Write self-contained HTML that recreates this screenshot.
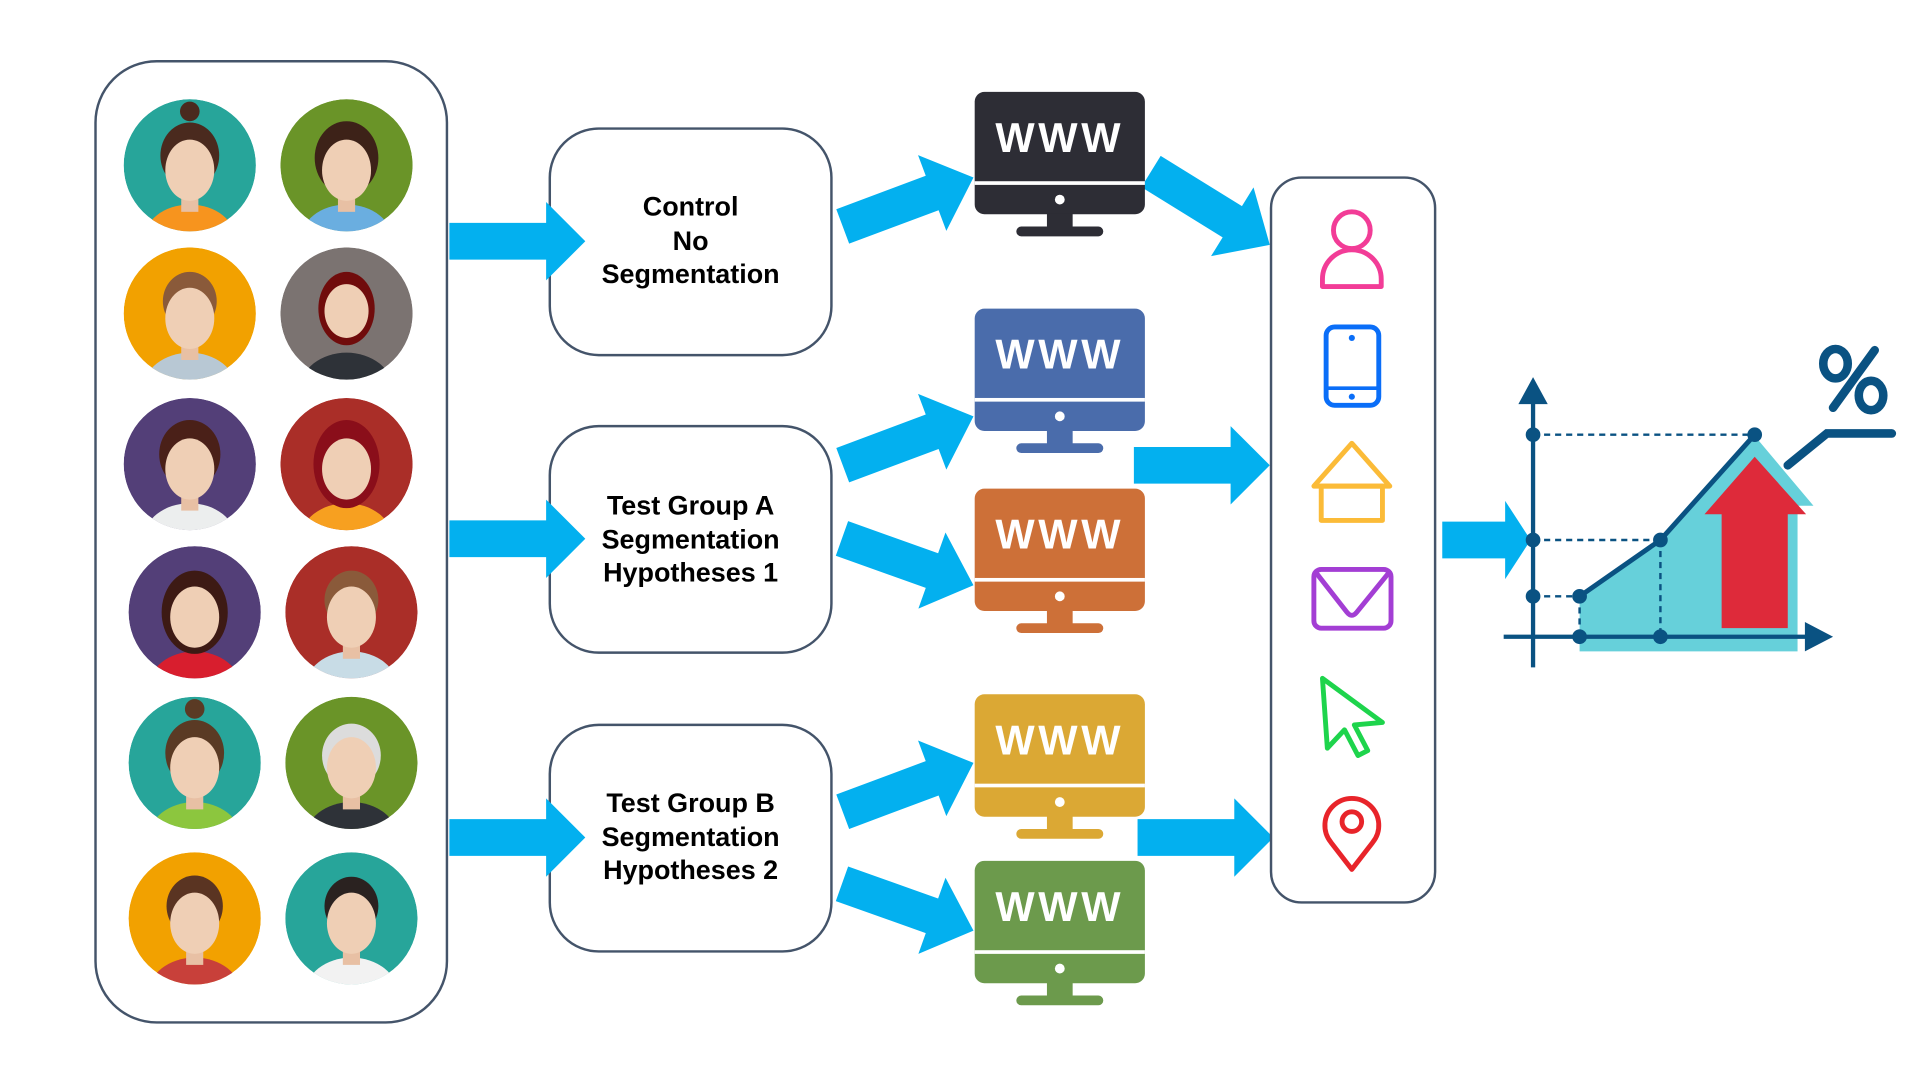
<!DOCTYPE html>
<html><head><meta charset="utf-8"><style>html,body{margin:0;padding:0;background:#fff;width:1920px;height:1080px;overflow:hidden}svg{display:block}</style></head><body>
<svg width="1920" height="1080" viewBox="0 0 1568 882" xmlns="http://www.w3.org/2000/svg">
<defs>
<clipPath id="cc"><circle cx="0" cy="0" r="54"/></clipPath>
<polygon id="arH" points="-111,-15 -32,-15 -32,-32 0,0 -32,32 -32,15 -111,15" fill="#03b0ef"/>
<polygon id="arD" points="-114,-15 -36,-15 -36,-33 0,0 -36,33 -36,15 -114,15" fill="#03b0ef"/>
</defs>
<rect width="1568" height="882" fill="#fff"/>
<rect x="78" y="50" width="287" height="785" rx="50" fill="#fff" stroke="#44546a" stroke-width="2"/>
<g font-family="Liberation Sans, sans-serif">
<g id="avs">
<g transform="translate(155,135)"><g clip-path="url(#cc)"><circle r="54" fill="#27a59a"/><ellipse cx="0" cy="62" rx="38" ry="30" fill="#f7941e"/><rect x="-7" y="18" width="14" height="20" fill="#e8c0a4"/><ellipse cx="0" cy="-8" rx="24" ry="27" fill="#4a2a1e"/><circle cx="0" cy="-44" r="8" fill="#4a2a1e"/><ellipse cx="0" cy="4" rx="20" ry="25" fill="#efcfb5"/></g></g>
<g transform="translate(283,135)"><g clip-path="url(#cc)"><circle r="54" fill="#6a9428"/><ellipse cx="0" cy="62" rx="38" ry="30" fill="#6aaee0"/><rect x="-7" y="18" width="14" height="20" fill="#e8c0a4"/><ellipse cx="0" cy="-6" rx="26" ry="30" fill="#3d2218"/><ellipse cx="0" cy="4" rx="20" ry="25" fill="#efcfb5"/></g></g>
<g transform="translate(155,256)"><g clip-path="url(#cc)"><circle r="54" fill="#f2a100"/><ellipse cx="0" cy="62" rx="38" ry="30" fill="#b8c8d4"/><rect x="-7" y="18" width="14" height="20" fill="#e8c0a4"/><ellipse cx="0" cy="-10" rx="22" ry="24" fill="#8a5a3a"/><ellipse cx="0" cy="4" rx="20" ry="25" fill="#efcfb5"/></g></g>
<g transform="translate(283,256)"><g clip-path="url(#cc)"><circle r="54" fill="#7b7371"/><ellipse cx="0" cy="62" rx="38" ry="30" fill="#2e3238"/><ellipse cx="0" cy="-4" rx="23" ry="30" fill="#700c0c"/><ellipse cx="0" cy="-2" rx="18" ry="22" fill="#efcfb5"/></g></g>
<g transform="translate(155,379)"><g clip-path="url(#cc)"><circle r="54" fill="#533f78"/><ellipse cx="0" cy="62" rx="38" ry="30" fill="#eceeee"/><rect x="-7" y="18" width="14" height="20" fill="#e8c0a4"/><ellipse cx="0" cy="-8" rx="25" ry="28" fill="#4a2018"/><ellipse cx="0" cy="4" rx="20" ry="25" fill="#efcfb5"/></g></g>
<g transform="translate(283,379)"><g clip-path="url(#cc)"><circle r="54" fill="#aa2e28"/><ellipse cx="0" cy="62" rx="38" ry="30" fill="#f7a020"/><ellipse cx="0" cy="0" rx="27" ry="36" fill="#8a0e1a"/><ellipse cx="0" cy="4" rx="20" ry="25" fill="#efcfb5"/></g></g>
<g transform="translate(159,500)"><g clip-path="url(#cc)"><circle r="54" fill="#533f78"/><ellipse cx="0" cy="62" rx="38" ry="30" fill="#d81e2e"/><ellipse cx="0" cy="0" rx="27" ry="34" fill="#3d1a14"/><ellipse cx="0" cy="4" rx="20" ry="25" fill="#efcfb5"/></g></g>
<g transform="translate(287,500)"><g clip-path="url(#cc)"><circle r="54" fill="#aa2e28"/><ellipse cx="0" cy="62" rx="38" ry="30" fill="#c8dce6"/><rect x="-7" y="18" width="14" height="20" fill="#e8c0a4"/><ellipse cx="0" cy="-10" rx="22" ry="24" fill="#8a5a3a"/><ellipse cx="0" cy="4" rx="20" ry="25" fill="#efcfb5"/></g></g>
<g transform="translate(159,623)"><g clip-path="url(#cc)"><circle r="54" fill="#27a59a"/><ellipse cx="0" cy="62" rx="38" ry="30" fill="#8cc63e"/><rect x="-7" y="18" width="14" height="20" fill="#e8c0a4"/><ellipse cx="0" cy="-8" rx="24" ry="27" fill="#5a3a24"/><circle cx="0" cy="-44" r="8" fill="#5a3a24"/><ellipse cx="0" cy="4" rx="20" ry="25" fill="#efcfb5"/></g></g>
<g transform="translate(287,623)"><g clip-path="url(#cc)"><circle r="54" fill="#6a9428"/><ellipse cx="0" cy="62" rx="38" ry="30" fill="#2e3238"/><rect x="-7" y="18" width="14" height="20" fill="#e8c0a4"/><ellipse cx="0" cy="-6" rx="24" ry="26" fill="#dcdcdc"/><ellipse cx="0" cy="4" rx="20" ry="25" fill="#efcfb5"/></g></g>
<g transform="translate(159,750)"><g clip-path="url(#cc)"><circle r="54" fill="#f2a100"/><ellipse cx="0" cy="62" rx="38" ry="30" fill="#c8403a"/><rect x="-7" y="18" width="14" height="20" fill="#e8c0a4"/><ellipse cx="0" cy="-10" rx="23" ry="25" fill="#5a3422"/><ellipse cx="0" cy="4" rx="20" ry="25" fill="#efcfb5"/></g></g>
<g transform="translate(287,750)"><g clip-path="url(#cc)"><circle r="54" fill="#27a59a"/><ellipse cx="0" cy="62" rx="38" ry="30" fill="#f2f2f2"/><rect x="-7" y="18" width="14" height="20" fill="#e8c0a4"/><ellipse cx="0" cy="-10" rx="22" ry="24" fill="#2a2220"/><ellipse cx="0" cy="4" rx="20" ry="25" fill="#efcfb5"/></g></g>
</g>
<rect x="449" y="105" width="230" height="185" rx="40" fill="#fff" stroke="#44546a" stroke-width="2"/>
<rect x="449" y="348" width="230" height="185" rx="40" fill="#fff" stroke="#44546a" stroke-width="2"/>
<rect x="449" y="592" width="230" height="185" rx="40" fill="#fff" stroke="#44546a" stroke-width="2"/>
<use href="#arH" transform="translate(478,197)"/>
<use href="#arH" transform="translate(478,440)"/>
<use href="#arH" transform="translate(478,684)"/>
<g font-size="22" font-weight="bold" text-anchor="middle" fill="#000">
<text x="564" y="176">Control</text><text x="564" y="204">No</text><text x="564" y="231">Segmentation</text>
<text x="564" y="420">Test Group A</text><text x="564" y="448">Segmentation</text><text x="564" y="475">Hypotheses 1</text>
<text x="564" y="663">Test Group B</text><text x="564" y="691">Segmentation</text><text x="564" y="718">Hypotheses 2</text>
</g>
<use href="#arD" transform="translate(795,145) rotate(-20.5)"/>
<use href="#arD" transform="translate(795,340) rotate(-20.5)"/>
<use href="#arD" transform="translate(795,478) rotate(19.6)"/>
<use href="#arD" transform="translate(795,623) rotate(-20.5)"/>
<use href="#arD" transform="translate(795,760) rotate(19.6)"/>
<use href="#arD" transform="translate(1037,200) rotate(31.7)"/>
<use href="#arH" transform="translate(1037,380)"/>
<use href="#arH" transform="translate(1040,684)"/>
<use href="#arH" transform="translate(1250,441) scale(0.65,1)"/>
<g id="mons">
<g transform="translate(796,75)"><rect width="139" height="100" rx="8" fill="#2d2d35"/><rect y="73" width="139" height="3" fill="#fff"/><circle cx="69.5" cy="88" r="4" fill="#fff"/><rect x="59" y="99" width="21" height="12" fill="#2d2d35"/><rect x="34" y="110" width="71" height="8" rx="4" fill="#2d2d35"/><text x="69.5" y="49" font-size="34" font-weight="bold" fill="#fff" text-anchor="middle" letter-spacing="3">WWW</text></g>
<g transform="translate(796,252)"><rect width="139" height="100" rx="8" fill="#4a6cab"/><rect y="73" width="139" height="3" fill="#fff"/><circle cx="69.5" cy="88" r="4" fill="#fff"/><rect x="59" y="99" width="21" height="12" fill="#4a6cab"/><rect x="34" y="110" width="71" height="8" rx="4" fill="#4a6cab"/><text x="69.5" y="49" font-size="34" font-weight="bold" fill="#fff" text-anchor="middle" letter-spacing="3">WWW</text></g>
<g transform="translate(796,399)"><rect width="139" height="100" rx="8" fill="#cd7038"/><rect y="73" width="139" height="3" fill="#fff"/><circle cx="69.5" cy="88" r="4" fill="#fff"/><rect x="59" y="99" width="21" height="12" fill="#cd7038"/><rect x="34" y="110" width="71" height="8" rx="4" fill="#cd7038"/><text x="69.5" y="49" font-size="34" font-weight="bold" fill="#fff" text-anchor="middle" letter-spacing="3">WWW</text></g>
<g transform="translate(796,567)"><rect width="139" height="100" rx="8" fill="#dba834"/><rect y="73" width="139" height="3" fill="#fff"/><circle cx="69.5" cy="88" r="4" fill="#fff"/><rect x="59" y="99" width="21" height="12" fill="#dba834"/><rect x="34" y="110" width="71" height="8" rx="4" fill="#dba834"/><text x="69.5" y="49" font-size="34" font-weight="bold" fill="#fff" text-anchor="middle" letter-spacing="3">WWW</text></g>
<g transform="translate(796,703)"><rect width="139" height="100" rx="8" fill="#6c9a4c"/><rect y="73" width="139" height="3" fill="#fff"/><circle cx="69.5" cy="88" r="4" fill="#fff"/><rect x="59" y="99" width="21" height="12" fill="#6c9a4c"/><rect x="34" y="110" width="71" height="8" rx="4" fill="#6c9a4c"/><text x="69.5" y="49" font-size="34" font-weight="bold" fill="#fff" text-anchor="middle" letter-spacing="3">WWW</text></g>
</g>
<rect x="1038" y="145" width="134" height="592" rx="25" fill="#fff" stroke="#44546a" stroke-width="2"/>
<g fill="none" stroke-width="4" stroke-linejoin="round">
<circle cx="1104" cy="188" r="15" stroke="#f23c97"/>
<path d="M1080,234 v-6 a24,24 0 0 1 48 0 v6 z" stroke="#f23c97"/>
<rect x="1083" y="267" width="43" height="64" rx="7" stroke="#0a6ef8"/>
<line x1="1083" y1="317" x2="1126" y2="317" stroke="#0a6ef8" stroke-width="3"/>
<polygon points="1104,362 1073,397 1135,397" stroke="#fbbb38"/>
<rect x="1079" y="397" width="50" height="28" stroke="#fbbb38"/>
<rect x="1073" y="465" width="63" height="48" rx="6" stroke="#a33ed4"/>
<path d="M1075,468 L1100,500 Q1104,505 1108,500 L1134,468" stroke="#a33ed4"/>
<polygon points="1080,554 1129,590 1106,592 1117,613 1109,617 1098,596 1084,611" stroke="#1ed44c"/>
<path d="M1104,710 L1087,688 A22,22 0 1 1 1121,688 Z" stroke="#e8242a"/>
<circle cx="1104" cy="671" r="8" stroke="#e8242a"/>
</g>
<circle cx="1104" cy="276" r="2.5" fill="#0a6ef8"/><circle cx="1104" cy="324" r="2.5" fill="#0a6ef8"/>
<polygon points="1290,487 1356,441 1433,356 1481,413 1468,413 1468,532 1290,532" fill="#66d0da"/>
<polygon points="1433,373 1475,420 1460,420 1460,513 1406,513 1406,420 1392,420" fill="#de2a3a"/>
<g stroke="#0a5282" fill="none">
<line x1="1252" y1="545" x2="1252" y2="325" stroke-width="3.5"/>
<line x1="1228" y1="520" x2="1480" y2="520" stroke-width="3.5"/>
<polyline points="1290,487 1356,441 1433,355" stroke-width="4"/>
<g stroke-width="2" stroke-dasharray="5,4"><line x1="1252" y1="355" x2="1433" y2="355"/><line x1="1252" y1="441" x2="1356" y2="441"/><line x1="1252" y1="487" x2="1290" y2="487"/><line x1="1290" y1="487" x2="1290" y2="520"/><line x1="1356" y1="441" x2="1356" y2="520"/></g>
<polyline points="1460,380 1492,354 1545,354" stroke-width="7" stroke-linecap="round"/>
</g>
<g fill="#0a5282">
<polygon points="1252,308 1240,330 1264,330"/><polygon points="1497,520 1474,508 1474,532"/>
<circle cx="1252" cy="355" r="6"/><circle cx="1252" cy="441" r="6"/><circle cx="1252" cy="487" r="6"/>
<circle cx="1290" cy="487" r="6"/><circle cx="1356" cy="441" r="6"/><circle cx="1433" cy="355" r="6"/>
<circle cx="1290" cy="520" r="6"/><circle cx="1356" cy="520" r="6"/>
</g>
<g stroke="#0a5282" fill="none" stroke-width="7" stroke-linecap="round">
<ellipse cx="1499" cy="297" rx="10" ry="12"/>
<ellipse cx="1528" cy="323" rx="10" ry="12"/>
<line x1="1531" y1="286" x2="1497" y2="333"/>
</g>
</g>
</svg>
</body></html>
